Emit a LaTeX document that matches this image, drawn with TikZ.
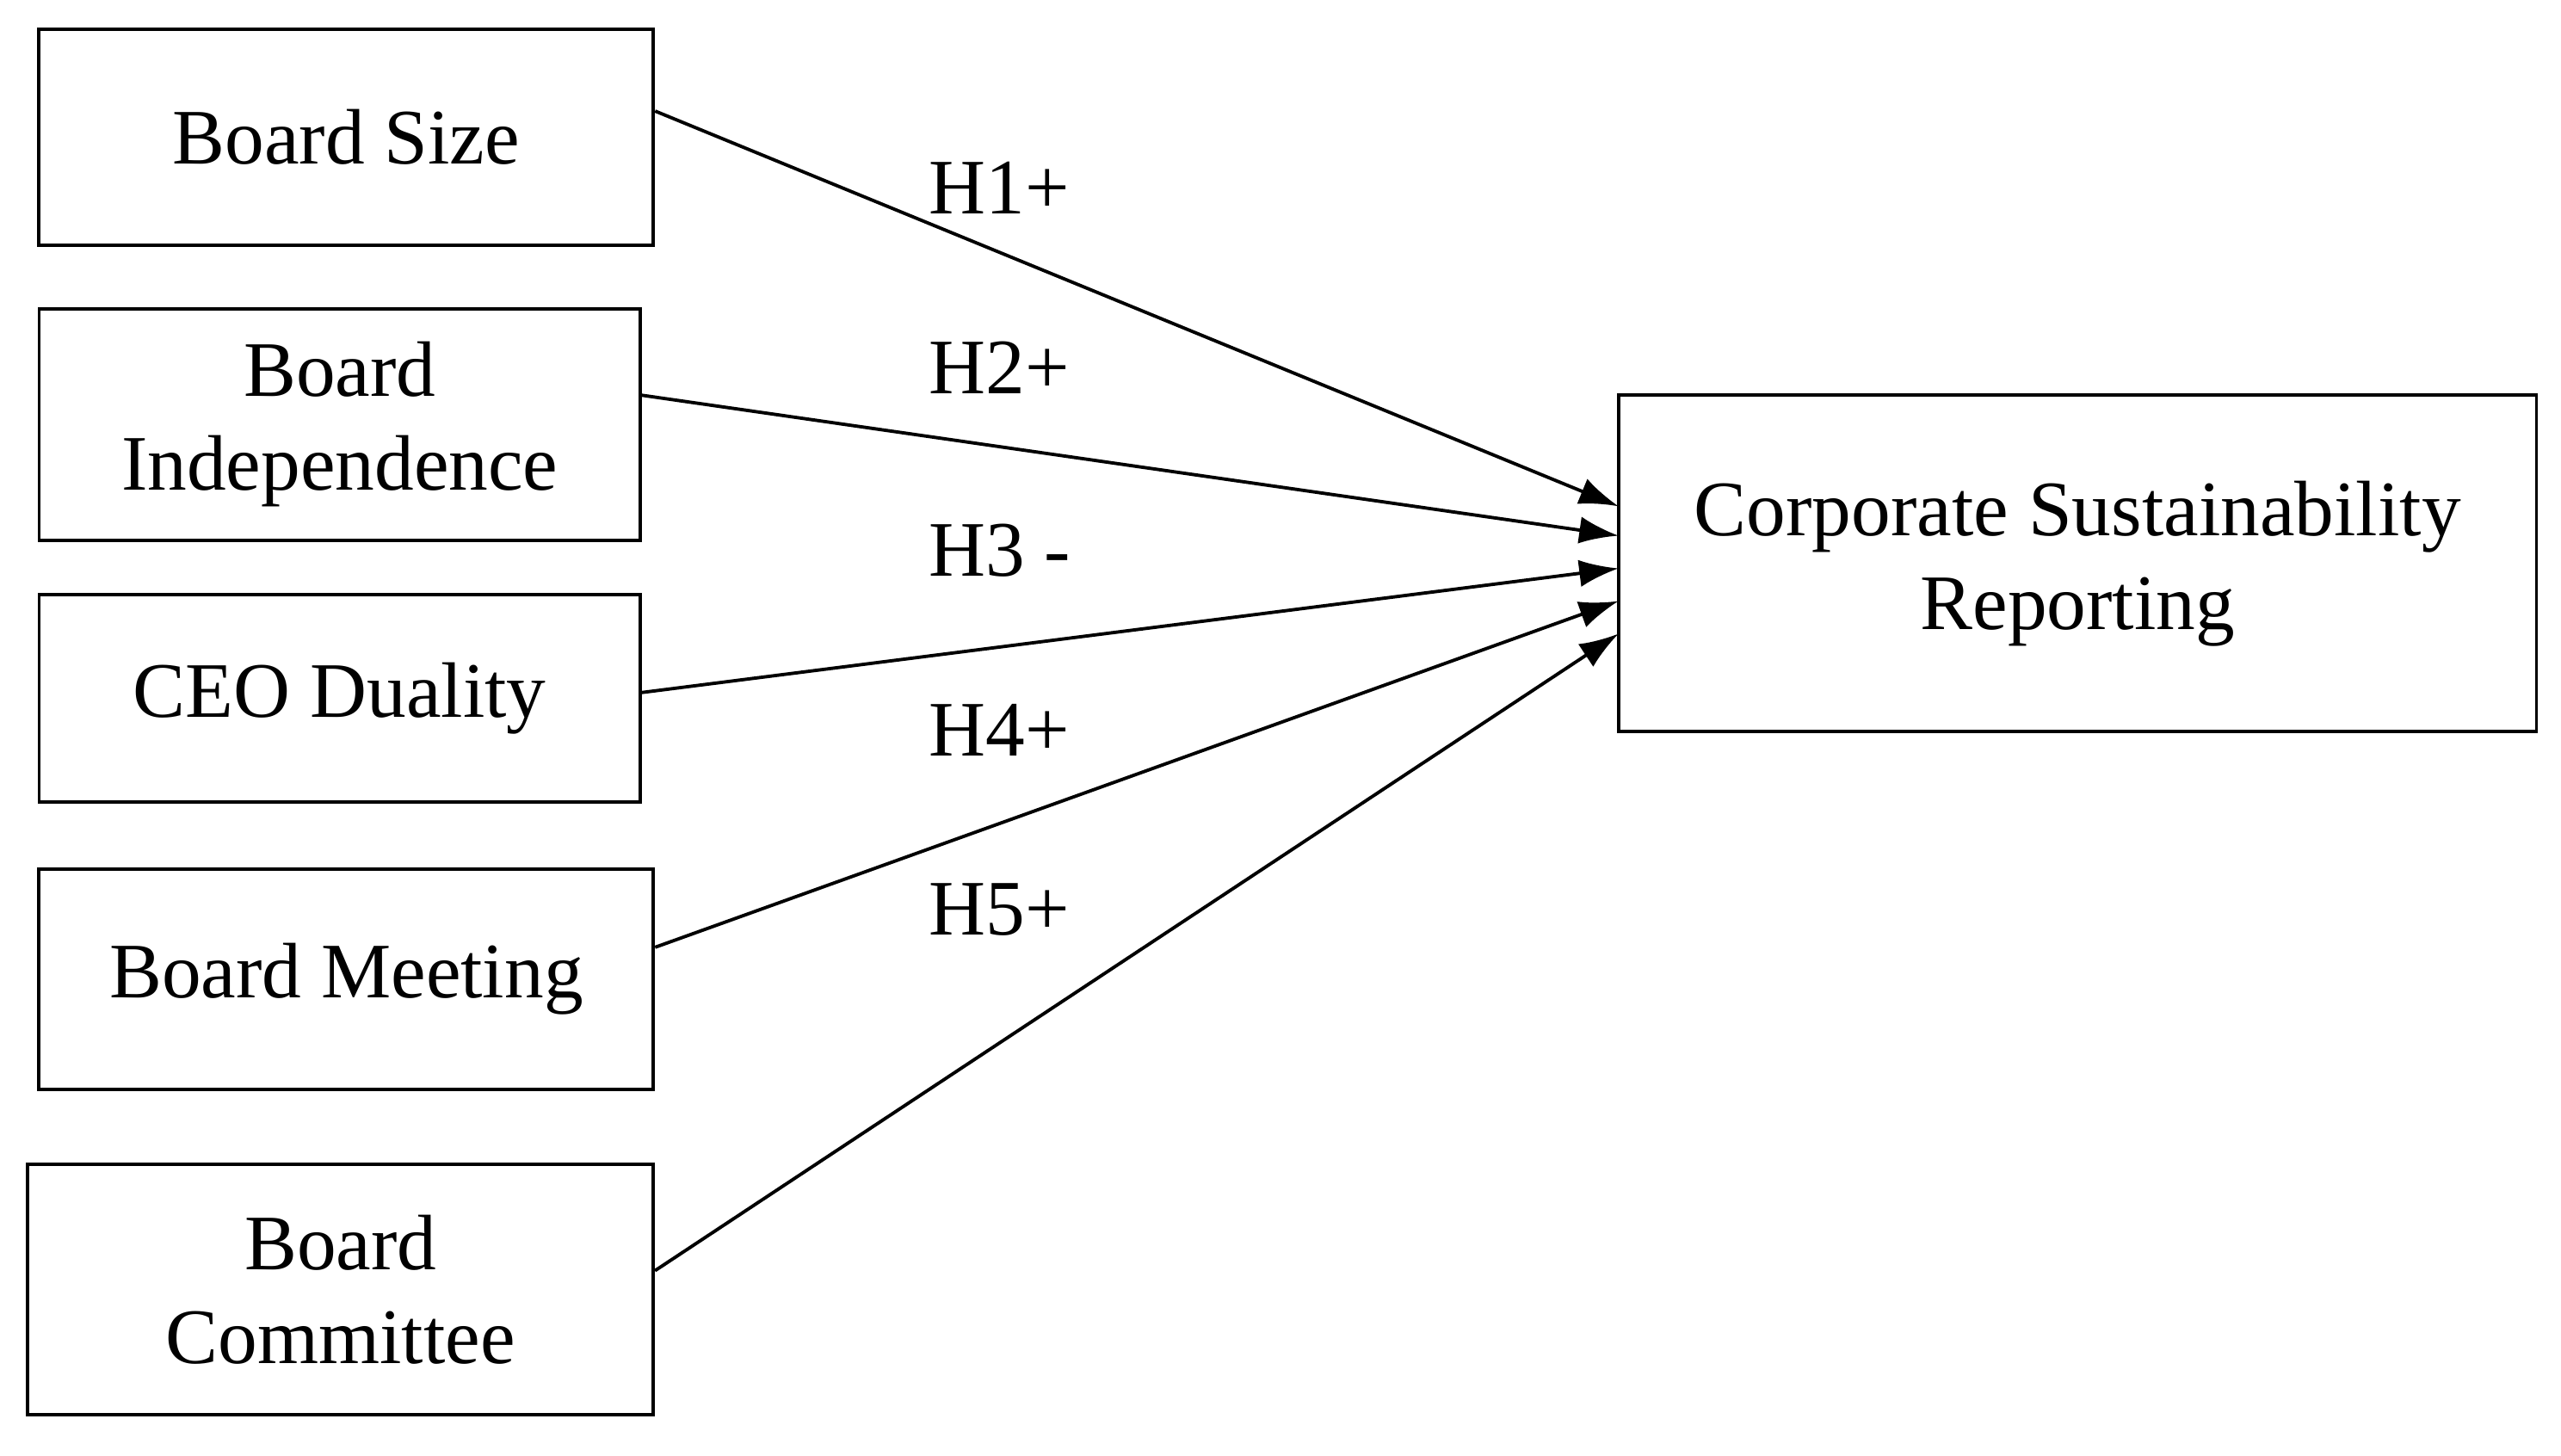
\documentclass[tikz,border=0pt]{standalone}
\usepackage{fontspec}
\setmainfont{Liberation Serif}
\usetikzlibrary{arrows}
\tikzset{
  block/.style={draw, rectangle, line width=1.1pt, align=center, inner sep=0pt,
    font=\fontsize{26}{31}\selectfont},
  hyp/.style={font=\fontsize{26}{31}\selectfont},
  link/.style={-{Latex[length=13pt,width=9pt]}, line width=1.1pt}
}
\usetikzlibrary{arrows.meta}
\begin{document}
\begin{tikzpicture}[x=0.01898cm, y=-0.01898cm]
  \useasboundingbox (0,0) rectangle (1568,891);
  \node [block, minimum width=7.14cm, minimum height=2.505cm] (size) at (212,84) {Board Size};
  \node [block, minimum width=6.985cm, minimum height=2.695cm] (indep) at (208,260) {Board\\Independence};
  \node [block, minimum width=6.985cm, minimum height=2.41cm] (ceo) at (208,427.5) {CEO Duality};
  \node [block, minimum width=7.14cm, minimum height=2.562cm] (meet) at (212,599.5) {Board Meeting};
  \node [block, minimum width=7.27cm, minimum height=2.904cm] (comm) at (208.5,789.5) {Board\\Committee};
  \node [block, minimum width=10.667cm, minimum height=3.91cm] (csr) at (1272,345) {Corporate Sustainability\\Reporting};
  % end points on the reporting box
  \coordinate (e1) at (991,310);
  \coordinate (e2) at (991,328);
  \coordinate (e3) at (991,348);
  \coordinate (e4) at (991,368);
  \coordinate (e5) at (991,388);
  \draw [link] (size.east |- 0,68) -- (e1);
  \draw [link] (indep.east |- 0,242) -- (e2);
  \draw [link] (ceo.east |- 0,424) -- (e3);
  \draw [link] (meet.east |- 0,580) -- (e4);
  \draw [link] (comm.east |- 0,778) -- (e5);
  \node [hyp] (h1) at (612,115) {H1+};
  \node [hyp] (h2) at (612,225) {H2+};
  \node [hyp] (h3) at (612,337) {H3 -};
  \node [hyp] (h4) at (612,447) {H4+};
  \node [hyp] (h5) at (612,557) {H5+};
\end{tikzpicture}
\end{document}
